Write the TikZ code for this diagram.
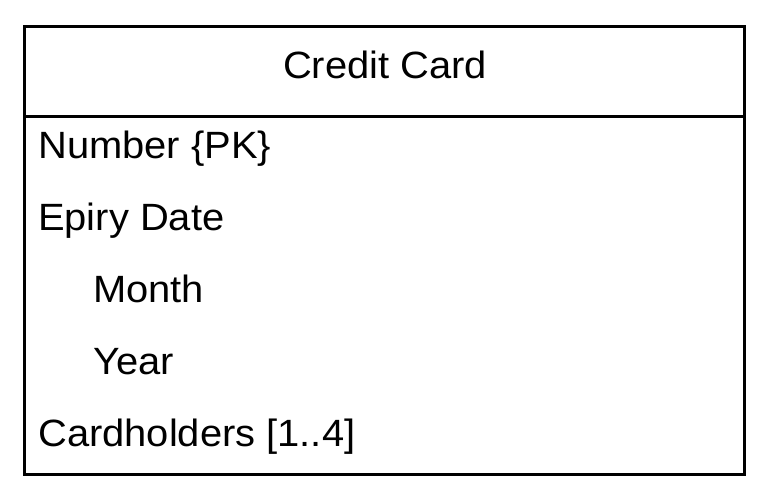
\documentclass[tikz,border=0pt]{standalone}
\usepackage{fontspec}
\setmainfont{Liberation Sans}[FakeStretch=1.05]
\usepackage{tikz}
\usetikzlibrary{positioning,calc}

\begin{document}
\begin{tikzpicture}[x=1pt, y=-1pt,
        % Define styles for the class box
        classbox/.style={draw, line width=3pt},
        title/.style={anchor=base, inner sep=0pt, font=\fontsize{38}{45}\selectfont},
        attr/.style={anchor=base west, inner sep=0pt, font=\fontsize{38}{45}\selectfont}
      ]

      % Bounding box with the reference's margins
      \useasboundingbox (0,0) rectangle (776,495);

      % Outer box and header separator
      \draw[classbox] (24.5,26.5) coordinate (boxnw) rectangle (744.5,474) coordinate (boxse);
      \coordinate (sepwest) at (24.5,116);
      \coordinate (sepeast) at (744.5,116);
      \draw[classbox] (sepwest) -- (sepeast);

      % Class name
      \node[title] (cardname) at (385,78) {Credit Card};

      % Attributes, one per row
      \node[attr] (number) at (38,158) {Number \{PK\}};
      \node[attr] (expiry) at (38,230) {Epiry Date};
      \node[attr] (month) at (93,302) {Month};
      \node[attr] (year) at (93,374) {Year};
      \node[attr] (holders) at (38,446) {Cardholders [1..4]};

    \end{tikzpicture}
\end{document}
